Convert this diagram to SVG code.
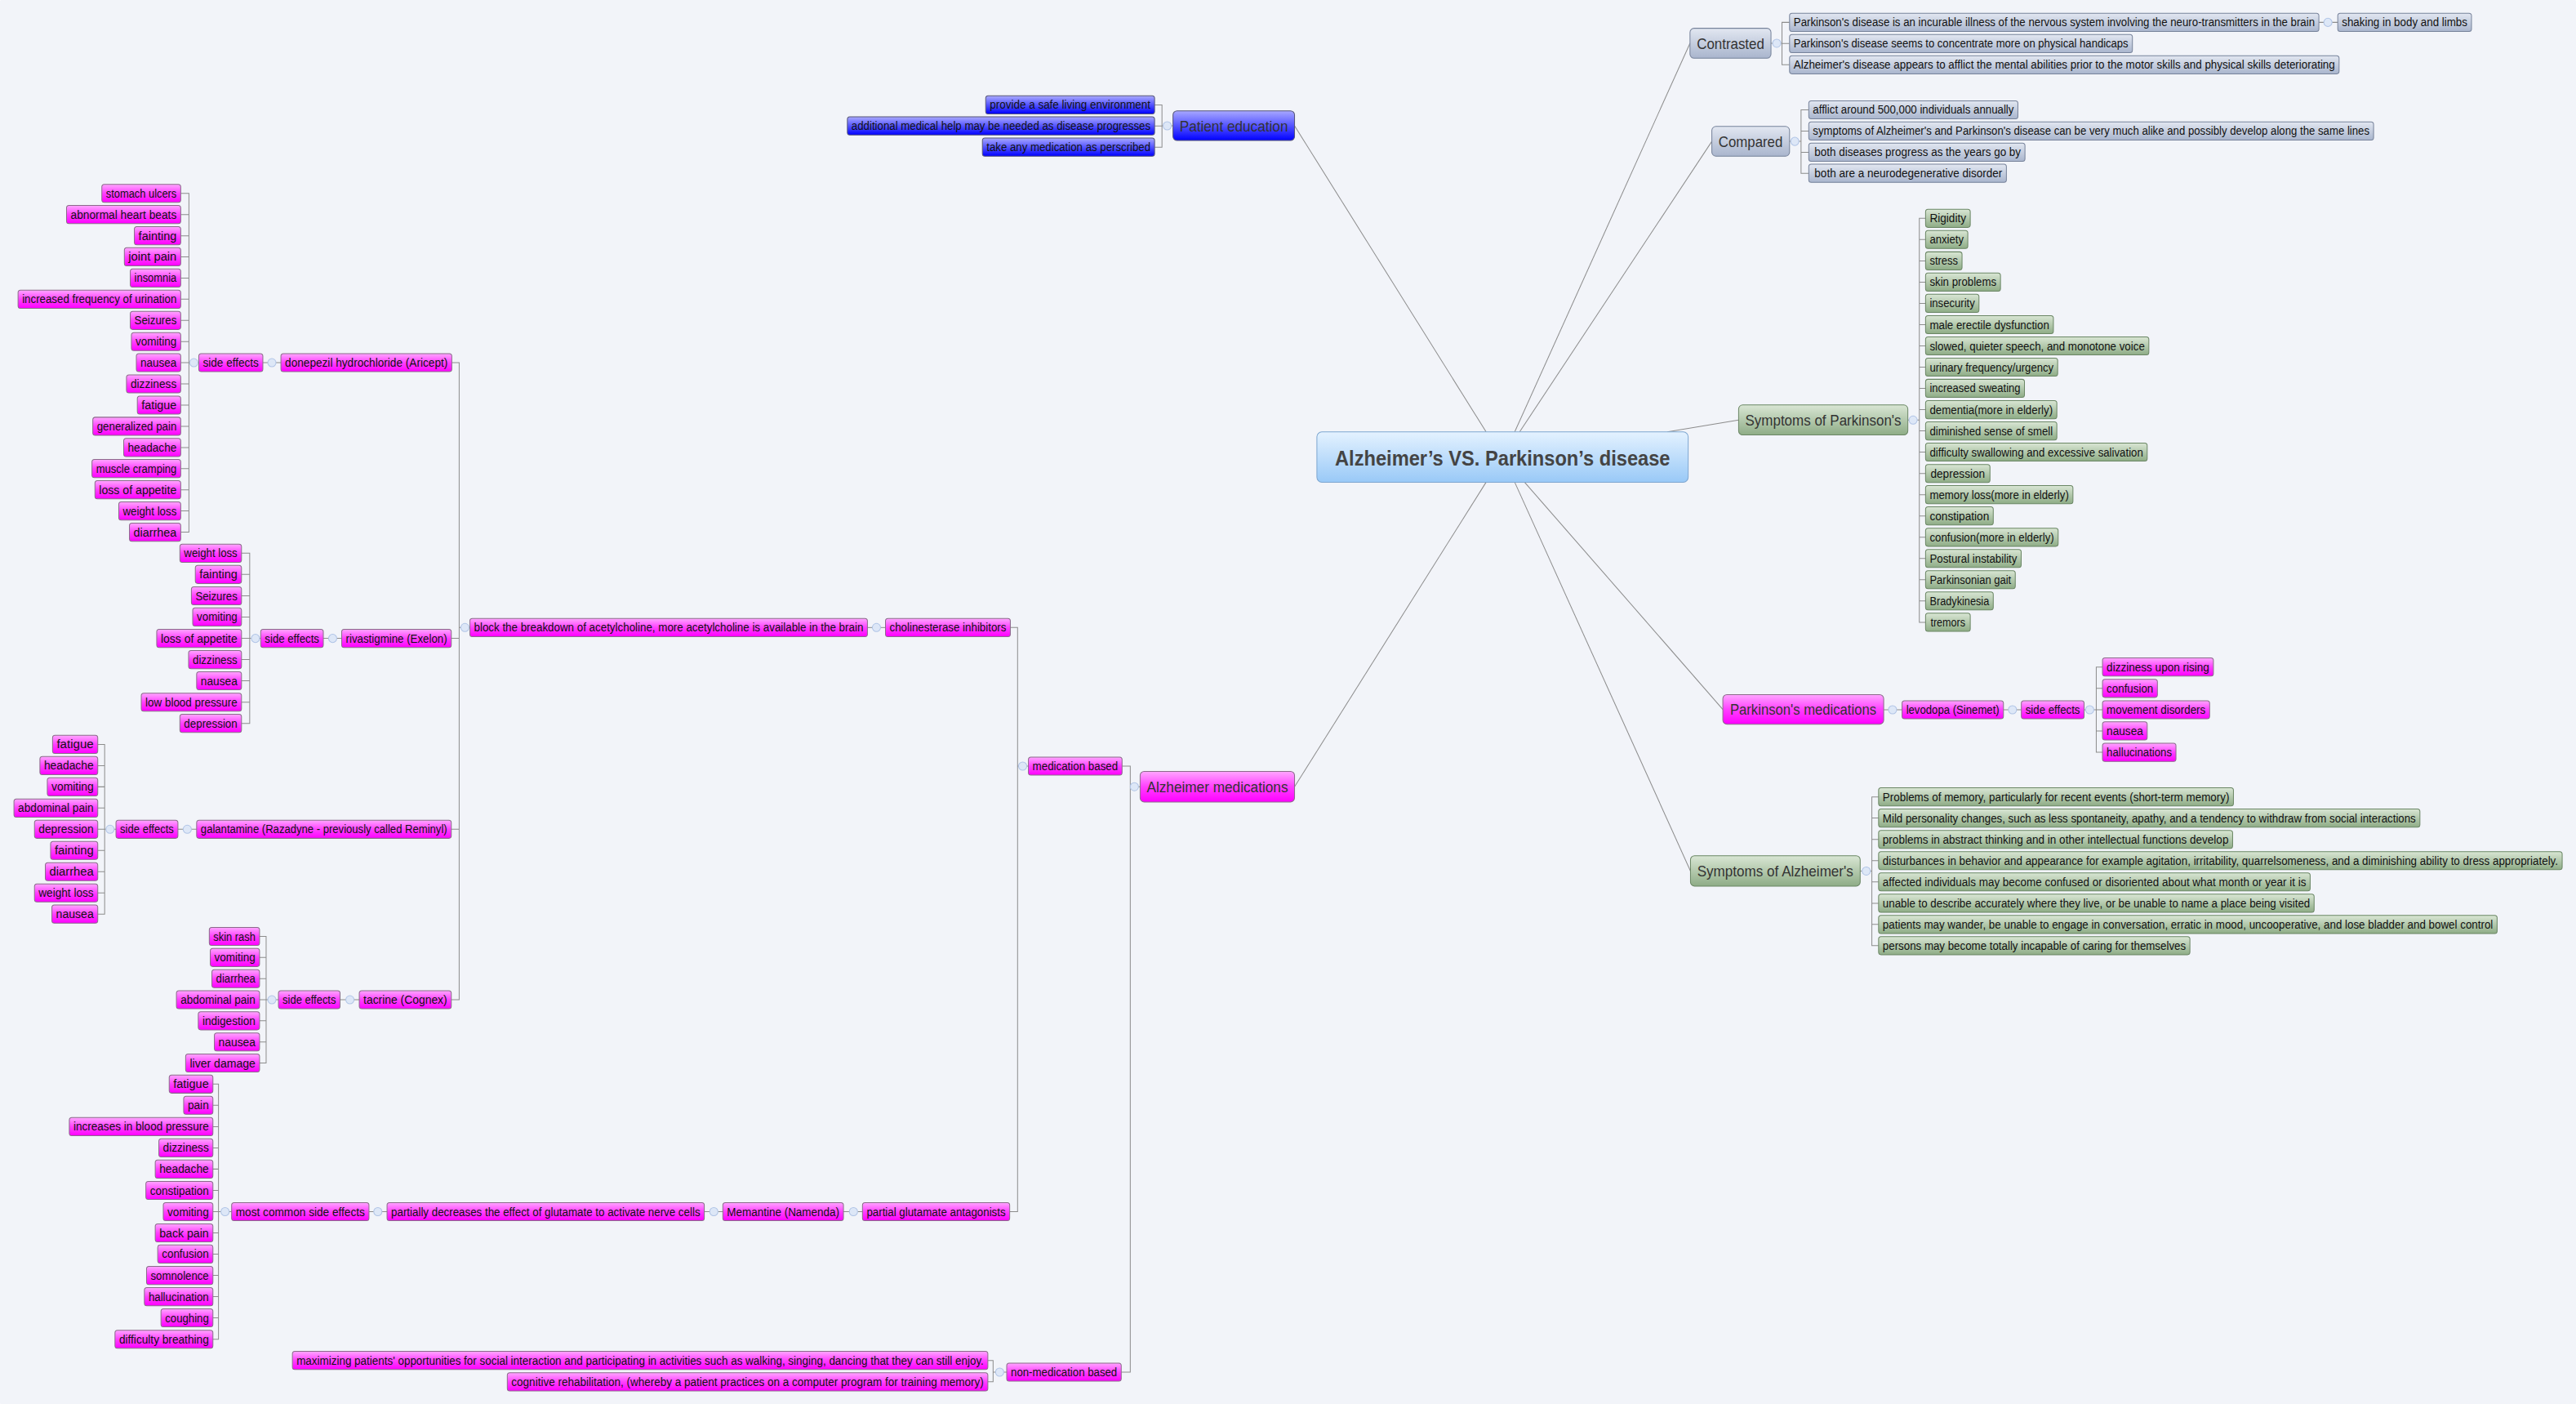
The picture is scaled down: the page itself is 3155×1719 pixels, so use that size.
<svg xmlns="http://www.w3.org/2000/svg" width="3155" height="1719" viewBox="0 0 3155 1719">
<defs>
<linearGradient id="gm" x1="0" y1="0" x2="0" y2="1"><stop offset="0" stop-color="#ffa6ff"/><stop offset="0.5" stop-color="#ff40ff"/><stop offset="1" stop-color="#ff00ff"/></linearGradient>
<linearGradient id="gg" x1="0" y1="0" x2="0" y2="1"><stop offset="0" stop-color="#e2e7f1"/><stop offset="1" stop-color="#a9b5cd"/></linearGradient>
<linearGradient id="gr" x1="0" y1="0" x2="0" y2="1"><stop offset="0" stop-color="#d9e6d4"/><stop offset="1" stop-color="#8eac86"/></linearGradient>
<linearGradient id="gb" x1="0" y1="0" x2="0" y2="1"><stop offset="0" stop-color="#a8a8ff"/><stop offset="1" stop-color="#0000ff"/></linearGradient>
<linearGradient id="gc" x1="0" y1="0" x2="0" y2="1"><stop offset="0" stop-color="#e4f2ff"/><stop offset="1" stop-color="#99c9f7"/></linearGradient>
</defs>
<style>
rect{rx:1.5px;stroke-width:.5}
rect.m{fill:url(#gm);stroke:#8a6a8a}
rect.g{fill:url(#gg);stroke:#76829a}
rect.r{fill:url(#gr);stroke:#6a8664}
rect.b{fill:url(#gb);stroke:#555577}
rect.c{fill:url(#gc);stroke:#7ea6d0;rx:3px}
rect.h{rx:2.5px}
text{font-family:"Liberation Sans",Arial,sans-serif;font-size:7px;fill:#111}
text.h{font-size:9.5px;fill:#333;text-anchor:middle}
text.c{font-size:13px;font-weight:bold;fill:#444;text-anchor:middle}
#connectors path,#connectors line{fill:none;stroke:#8c8c8c;stroke-width:.5}
#connectors circle{fill:#dde7f7;stroke:#b0c4e6;stroke-width:.5}
</style>
<rect width="3155" height="1719" fill="#f2f4f9"/>
<g transform="scale(2.0121,2.0129)">
<g id="connectors">
<line x1="904.6" y1="262.7" x2="788" y2="76.5"/>
<line x1="922" y1="262.7" x2="1028.7" y2="26.3"/>
<line x1="925" y1="262.7" x2="1042" y2="86"/>
<line x1="1015" y1="262.7" x2="1058.3" y2="255.5"/>
<line x1="928" y1="293.3" x2="1048.7" y2="431.5"/>
<line x1="922" y1="293.3" x2="1029" y2="529.8"/>
<line x1="904.6" y1="293.3" x2="788" y2="478.5"/>
<path d="M714,76.5H707.3V63.8H702.8M707.3,76.5V89.5H702.8M707.3,76.6H702.8"/>
<path d="M694,478.5H688V466H683M688,478.5V834.6H682.5"/>
<path d="M626,466H619.4V381.7H615M619.4,466V737H614.6"/>
<path d="M539,381.7H528"/>
<path d="M286,381.7H279.5V220.6H275M279.5,381.7V608.1H274.7M279.5,388.3H274.7M279.5,504.4H274.7"/>
<path d="M171,220.6H160M121,220.6H115V117.6H110M115,220.6V323.7H110M115,130.5H110M115,143.4H110M115,156.2H110M115,169.1H110M115,182H110M115,194.9H110M115,207.8H110M115,220.6H110M115,233.5H110M115,246.4H110M115,259.3H110M115,272.2H110M115,285H110M115,297.9H110M115,310.8H110"/>
<path d="M208,388.3H196.8M158.7,388.3H152V336.5H147M152,388.3V440H147M152,349.4H147M152,362.4H147M152,375.3H147M152,388.3H147M152,401.2H147M152,414.1H147M152,427.1H147"/>
<path d="M119.7,504.4H108.3M70.6,504.4H63.7V452.8H59.5M63.7,504.4V556H59.5M63.7,465.7H59.5M63.7,478.6H59.5M63.7,491.5H59.5M63.7,504.4H59.5M63.7,517.3H59.5M63.7,530.2H59.5M63.7,543.1H59.5"/>
<path d="M218.7,608.1H207M169.5,608.1H162V569.6H158M162,608.1V646.6H158M162,582.4H158M162,595.3H158M162,608.1H158M162,620.9H158M162,633.8H158"/>
<path d="M525,737H513.4M440,737H428.7M235.6,737H224.6M141,737H133V659.4H129.6M133,737V814.6H129.6M133,672.3H129.6M133,685.3H129.6M133,698.2H129.6M133,711.1H129.6M133,724.1H129.6M133,737H129.6M133,749.9H129.6M133,762.8H129.6M133,775.8H129.6M133,788.7H129.6M133,801.6H129.6"/>
<path d="M612.8,834.6H604.5V827.5H601.3M604.5,834.6V840.5H601.3"/>
<path d="M1078,26.3H1084.7V13.6H1089.3M1084.7,26.3V39.4H1089.3M1084.7,26.5H1089.3M1411.5,13.6H1423"/>
<path d="M1089.3,86H1096.3V66.8H1101M1096.3,86V105.4H1101M1096.3,79.7H1101M1096.3,92.6H1101"/>
<path d="M1161.3,255.5H1168.3V132.8H1172.1M1168.3,255.5V378.5H1172.1M1168.3,145.7H1172.1M1168.3,158.7H1172.1M1168.3,171.6H1172.1M1168.3,184.5H1172.1M1168.3,197.5H1172.1M1168.3,210.4H1172.1M1168.3,223.3H1172.1M1168.3,236.2H1172.1M1168.3,249.2H1172.1M1168.3,262.1H1172.1M1168.3,275H1172.1M1168.3,288H1172.1M1168.3,300.9H1172.1M1168.3,313.8H1172.1M1168.3,326.8H1172.1M1168.3,339.7H1172.1M1168.3,352.6H1172.1M1168.3,365.5H1172.1"/>
<path d="M1146.6,431.7H1157.8M1219.5,431.7H1230.4M1268.6,431.7H1276V405.7H1279.8M1276,431.7V457.6H1279.8M1276,418.7H1279.8M1276,431.7H1279.8M1276,444.6H1279.8"/>
<path d="M1132.3,529.8H1139.4V484.7H1143.5M1139.4,529.8V575.2H1143.5M1139.4,497.6H1143.5M1139.4,510.6H1143.5M1139.4,523.5H1143.5M1139.4,536.4H1143.5M1139.4,549.4H1143.5M1139.4,562.3H1143.5"/>
<circle cx="710.5" cy="76.5" r="2.5"/><circle cx="690.5" cy="478.5" r="2.5"/><circle cx="622.5" cy="466" r="2.5"/><circle cx="533.5" cy="381.7" r="2.5"/><circle cx="283" cy="381.7" r="2.5"/><circle cx="165.5" cy="220.6" r="2.5"/><circle cx="118" cy="220.6" r="2.5"/><circle cx="202.5" cy="388.3" r="2.5"/><circle cx="155.5" cy="388.3" r="2.5"/><circle cx="114" cy="504.4" r="2.5"/><circle cx="67" cy="504.4" r="2.5"/><circle cx="213" cy="608.1" r="2.5"/><circle cx="165.5" cy="608.1" r="2.5"/><circle cx="519.5" cy="737" r="2.5"/><circle cx="434.5" cy="737" r="2.5"/><circle cx="230" cy="737" r="2.5"/><circle cx="137" cy="737" r="2.5"/><circle cx="608.5" cy="834.6" r="2.5"/><circle cx="1081.5" cy="26.3" r="2.5"/><circle cx="1417" cy="13.6" r="2.5"/><circle cx="1092.5" cy="86" r="2.5"/><circle cx="1164.5" cy="255.5" r="2.5"/><circle cx="1152" cy="431.7" r="2.5"/><circle cx="1225" cy="431.7" r="2.5"/><circle cx="1272" cy="431.7" r="2.5"/><circle cx="1136" cy="529.8" r="2.5"/>
</g>
<g id="central"><rect class="c" x="801.6" y="262.7" width="226" height="30.6"/><text class="c" x="914.6" y="283" textLength="204" lengthAdjust="spacingAndGlyphs">Alzheimer’s VS. Parkinson’s disease</text></g>
<g id="patient-education"><rect class="b h" x="714" y="67.4" width="74" height="18.1"/><text class="h" x="751" y="79.8" textLength="66" lengthAdjust="spacingAndGlyphs">Patient education</text></g>
<g id="pe1"><rect class="b" x="600" y="58.3" width="102.8" height="11"/><text x="602.5" y="66.3" textLength="97.8" lengthAdjust="spacingAndGlyphs">provide a safe living environment</text></g>
<g id="pe2"><rect class="b" x="515.8" y="71.1" width="187" height="11"/><text x="518.3" y="79.1" textLength="182" lengthAdjust="spacingAndGlyphs">additional medical help may be needed as disease progresses</text></g>
<g id="pe3"><rect class="b" x="598" y="84" width="104.8" height="11"/><text x="600.5" y="92" textLength="99.8" lengthAdjust="spacingAndGlyphs">take any medication as perscribed</text></g>
<g id="alz-med"><rect class="m h" x="694" y="469.2" width="94" height="18.6"/><text class="h" x="741" y="481.8" textLength="86" lengthAdjust="spacingAndGlyphs">Alzheimer medications</text></g>
<g id="med-based"><rect class="m" x="626" y="460.5" width="57" height="11"/><text x="628.5" y="468.5" textLength="52" lengthAdjust="spacingAndGlyphs">medication based</text></g>
<g id="nonmed"><rect class="m" x="612.8" y="829.1" width="69.7" height="11"/><text x="615.3" y="837.1" textLength="64.7" lengthAdjust="spacingAndGlyphs">non-medication based</text></g>
<g id="nm1"><rect class="m" x="178" y="822" width="423.3" height="11"/><text x="180.5" y="830" textLength="418.3" lengthAdjust="spacingAndGlyphs">maximizing patients' opportunities for social interaction and participating in activities such as walking, singing, dancing that they can still enjoy.</text></g>
<g id="nm2"><rect class="m" x="308.8" y="835" width="292.5" height="11"/><text x="311.3" y="843" textLength="287.5" lengthAdjust="spacingAndGlyphs">cognitive rehabilitation, (whereby a patient practices on a computer program for training memory)</text></g>
<g id="chol"><rect class="m" x="539" y="376.2" width="76" height="11"/><text x="541.5" y="384.2" textLength="71" lengthAdjust="spacingAndGlyphs">cholinesterase inhibitors</text></g>
<g id="block"><rect class="m" x="286" y="376.2" width="242" height="11"/><text x="288.5" y="384.2" textLength="237" lengthAdjust="spacingAndGlyphs">block the breakdown of acetylcholine, more acetylcholine is available in the brain</text></g>
<g id="donepezil"><rect class="m" x="171" y="215.1" width="104" height="11"/><text x="173.5" y="223.1" textLength="99" lengthAdjust="spacingAndGlyphs">donepezil hydrochloride (Aricept)</text></g>
<g id="se-d"><rect class="m" x="121" y="215.1" width="39" height="11"/><text x="123.5" y="223.1" textLength="34" lengthAdjust="spacingAndGlyphs">side effects</text></g>
<g id="d1"><rect class="m" x="62" y="112.1" width="48" height="11"/><text x="64.5" y="120.1" textLength="43" lengthAdjust="spacingAndGlyphs">stomach ulcers</text></g>
<g id="d2"><rect class="m" x="40.5" y="125" width="69.5" height="11"/><text x="43" y="133" textLength="64.5" lengthAdjust="spacingAndGlyphs">abnormal heart beats</text></g>
<g id="d3"><rect class="m" x="81.8" y="137.9" width="28.2" height="11"/><text x="84.3" y="145.9" textLength="23.2" lengthAdjust="spacingAndGlyphs">fainting</text></g>
<g id="d4"><rect class="m" x="75.7" y="150.7" width="34.3" height="11"/><text x="78.2" y="158.7" textLength="29.3" lengthAdjust="spacingAndGlyphs">joint pain</text></g>
<g id="d5"><rect class="m" x="79.3" y="163.6" width="30.7" height="11"/><text x="81.8" y="171.6" textLength="25.7" lengthAdjust="spacingAndGlyphs">insomnia</text></g>
<g id="d6"><rect class="m" x="11" y="176.5" width="99" height="11"/><text x="13.5" y="184.5" textLength="94" lengthAdjust="spacingAndGlyphs">increased frequency of urination</text></g>
<g id="d7"><rect class="m" x="79.3" y="189.4" width="30.7" height="11"/><text x="81.8" y="197.4" textLength="25.7" lengthAdjust="spacingAndGlyphs">Seizures</text></g>
<g id="d8"><rect class="m" x="80" y="202.3" width="30" height="11"/><text x="82.5" y="210.3" textLength="25" lengthAdjust="spacingAndGlyphs">vomiting</text></g>
<g id="d9"><rect class="m" x="83" y="215.1" width="27" height="11"/><text x="85.5" y="223.1" textLength="22" lengthAdjust="spacingAndGlyphs">nausea</text></g>
<g id="d10"><rect class="m" x="77" y="228" width="33" height="11"/><text x="79.5" y="236" textLength="28" lengthAdjust="spacingAndGlyphs">dizziness</text></g>
<g id="d11"><rect class="m" x="83.6" y="240.9" width="26.4" height="11"/><text x="86.1" y="248.9" textLength="21.4" lengthAdjust="spacingAndGlyphs">fatigue</text></g>
<g id="d12"><rect class="m" x="56.5" y="253.8" width="53.5" height="11"/><text x="59" y="261.8" textLength="48.5" lengthAdjust="spacingAndGlyphs">generalized pain</text></g>
<g id="d13"><rect class="m" x="75.3" y="266.7" width="34.7" height="11"/><text x="77.8" y="274.7" textLength="29.7" lengthAdjust="spacingAndGlyphs">headache</text></g>
<g id="d14"><rect class="m" x="56" y="279.5" width="54" height="11"/><text x="58.5" y="287.5" textLength="49" lengthAdjust="spacingAndGlyphs">muscle cramping</text></g>
<g id="d15"><rect class="m" x="57.8" y="292.4" width="52.2" height="11"/><text x="60.3" y="300.4" textLength="47.2" lengthAdjust="spacingAndGlyphs">loss of appetite</text></g>
<g id="d16"><rect class="m" x="72.3" y="305.3" width="37.7" height="11"/><text x="74.8" y="313.3" textLength="32.7" lengthAdjust="spacingAndGlyphs">weight loss</text></g>
<g id="d17"><rect class="m" x="78.8" y="318.2" width="31.2" height="11"/><text x="81.3" y="326.2" textLength="26.2" lengthAdjust="spacingAndGlyphs">diarrhea</text></g>
<g id="rivastigmine"><rect class="m" x="208" y="382.8" width="66.7" height="11"/><text x="210.5" y="390.8" textLength="61.7" lengthAdjust="spacingAndGlyphs">rivastigmine (Exelon)</text></g>
<g id="se-r"><rect class="m" x="158.7" y="382.8" width="38.1" height="11"/><text x="161.2" y="390.8" textLength="33.1" lengthAdjust="spacingAndGlyphs">side effects</text></g>
<g id="r1"><rect class="m" x="109.5" y="331" width="37.5" height="11"/><text x="112" y="339" textLength="32.5" lengthAdjust="spacingAndGlyphs">weight loss</text></g>
<g id="r2"><rect class="m" x="118.9" y="343.9" width="28.1" height="11"/><text x="121.4" y="351.9" textLength="23.1" lengthAdjust="spacingAndGlyphs">fainting</text></g>
<g id="r3"><rect class="m" x="116.5" y="356.9" width="30.5" height="11"/><text x="119" y="364.9" textLength="25.5" lengthAdjust="spacingAndGlyphs">Seizures</text></g>
<g id="r4"><rect class="m" x="117.3" y="369.8" width="29.7" height="11"/><text x="119.8" y="377.8" textLength="24.7" lengthAdjust="spacingAndGlyphs">vomiting</text></g>
<g id="r5"><rect class="m" x="95.4" y="382.8" width="51.6" height="11"/><text x="97.9" y="390.8" textLength="46.6" lengthAdjust="spacingAndGlyphs">loss of appetite</text></g>
<g id="r6"><rect class="m" x="114.8" y="395.7" width="32.2" height="11"/><text x="117.3" y="403.7" textLength="27.2" lengthAdjust="spacingAndGlyphs">dizziness</text></g>
<g id="r7"><rect class="m" x="119.7" y="408.6" width="27.3" height="11"/><text x="122.2" y="416.6" textLength="22.3" lengthAdjust="spacingAndGlyphs">nausea</text></g>
<g id="r8"><rect class="m" x="86" y="421.6" width="61" height="11"/><text x="88.5" y="429.6" textLength="56" lengthAdjust="spacingAndGlyphs">low blood pressure</text></g>
<g id="r9"><rect class="m" x="109.5" y="434.5" width="37.5" height="11"/><text x="112" y="442.5" textLength="32.5" lengthAdjust="spacingAndGlyphs">depression</text></g>
<g id="galantamine"><rect class="m" x="119.7" y="498.9" width="155" height="11"/><text x="122.2" y="506.9" textLength="150" lengthAdjust="spacingAndGlyphs">galantamine (Razadyne - previously called Reminyl)</text></g>
<g id="se-g"><rect class="m" x="70.6" y="498.9" width="37.7" height="11"/><text x="73.1" y="506.9" textLength="32.7" lengthAdjust="spacingAndGlyphs">side effects</text></g>
<g id="g1"><rect class="m" x="32" y="447.3" width="27.5" height="11"/><text x="34.5" y="455.3" textLength="22.5" lengthAdjust="spacingAndGlyphs">fatigue</text></g>
<g id="g2"><rect class="m" x="24.3" y="460.2" width="35.2" height="11"/><text x="26.8" y="468.2" textLength="30.2" lengthAdjust="spacingAndGlyphs">headache</text></g>
<g id="g3"><rect class="m" x="28.8" y="473.1" width="30.7" height="11"/><text x="31.3" y="481.1" textLength="25.7" lengthAdjust="spacingAndGlyphs">vomiting</text></g>
<g id="g4"><rect class="m" x="8.5" y="486" width="51" height="11"/><text x="11" y="494" textLength="46" lengthAdjust="spacingAndGlyphs">abdominal pain</text></g>
<g id="g5"><rect class="m" x="21" y="498.9" width="38.5" height="11"/><text x="23.5" y="506.9" textLength="33.5" lengthAdjust="spacingAndGlyphs">depression</text></g>
<g id="g6"><rect class="m" x="30.8" y="511.8" width="28.7" height="11"/><text x="33.3" y="519.8" textLength="23.7" lengthAdjust="spacingAndGlyphs">fainting</text></g>
<g id="g7"><rect class="m" x="27.6" y="524.7" width="31.9" height="11"/><text x="30.1" y="532.7" textLength="26.9" lengthAdjust="spacingAndGlyphs">diarrhea</text></g>
<g id="g8"><rect class="m" x="21" y="537.6" width="38.5" height="11"/><text x="23.5" y="545.6" textLength="33.5" lengthAdjust="spacingAndGlyphs">weight loss</text></g>
<g id="g9"><rect class="m" x="31.6" y="550.5" width="27.9" height="11"/><text x="34.1" y="558.5" textLength="22.9" lengthAdjust="spacingAndGlyphs">nausea</text></g>
<g id="tacrine"><rect class="m" x="218.7" y="602.6" width="56" height="11"/><text x="221.2" y="610.6" textLength="51" lengthAdjust="spacingAndGlyphs">tacrine (Cognex)</text></g>
<g id="se-t"><rect class="m" x="169.5" y="602.6" width="37.5" height="11"/><text x="172" y="610.6" textLength="32.5" lengthAdjust="spacingAndGlyphs">side effects</text></g>
<g id="t1"><rect class="m" x="127.4" y="564.1" width="30.6" height="11"/><text x="129.9" y="572.1" textLength="25.6" lengthAdjust="spacingAndGlyphs">skin rash</text></g>
<g id="t2"><rect class="m" x="128" y="576.9" width="30" height="11"/><text x="130.5" y="584.9" textLength="25" lengthAdjust="spacingAndGlyphs">vomiting</text></g>
<g id="t3"><rect class="m" x="129" y="589.8" width="29" height="11"/><text x="131.5" y="597.8" textLength="24" lengthAdjust="spacingAndGlyphs">diarrhea</text></g>
<g id="t4"><rect class="m" x="107.4" y="602.6" width="50.6" height="11"/><text x="109.9" y="610.6" textLength="45.6" lengthAdjust="spacingAndGlyphs">abdominal pain</text></g>
<g id="t5"><rect class="m" x="120.7" y="615.4" width="37.3" height="11"/><text x="123.2" y="623.4" textLength="32.3" lengthAdjust="spacingAndGlyphs">indigestion</text></g>
<g id="t6"><rect class="m" x="130.5" y="628.3" width="27.5" height="11"/><text x="133" y="636.3" textLength="22.5" lengthAdjust="spacingAndGlyphs">nausea</text></g>
<g id="t7"><rect class="m" x="113" y="641.1" width="45" height="11"/><text x="115.5" y="649.1" textLength="40" lengthAdjust="spacingAndGlyphs">liver damage</text></g>
<g id="partial-glut"><rect class="m" x="525" y="731.5" width="89.6" height="11"/><text x="527.5" y="739.5" textLength="84.6" lengthAdjust="spacingAndGlyphs">partial glutamate antagonists</text></g>
<g id="memantine"><rect class="m" x="440" y="731.5" width="73.4" height="11"/><text x="442.5" y="739.5" textLength="68.4" lengthAdjust="spacingAndGlyphs">Memantine (Namenda)</text></g>
<g id="partially"><rect class="m" x="235.6" y="731.5" width="193.1" height="11"/><text x="238.1" y="739.5" textLength="188.1" lengthAdjust="spacingAndGlyphs">partially decreases the effect of glutamate to activate nerve cells</text></g>
<g id="most-common"><rect class="m" x="141" y="731.5" width="83.6" height="11"/><text x="143.5" y="739.5" textLength="78.6" lengthAdjust="spacingAndGlyphs">most common side effects</text></g>
<g id="m1"><rect class="m" x="103" y="653.9" width="26.6" height="11"/><text x="105.5" y="661.9" textLength="21.6" lengthAdjust="spacingAndGlyphs">fatigue</text></g>
<g id="m2"><rect class="m" x="111.8" y="666.8" width="17.8" height="11"/><text x="114.3" y="674.8" textLength="12.8" lengthAdjust="spacingAndGlyphs">pain</text></g>
<g id="m3"><rect class="m" x="42.2" y="679.8" width="87.4" height="11"/><text x="44.7" y="687.8" textLength="82.4" lengthAdjust="spacingAndGlyphs">increases in blood pressure</text></g>
<g id="m4"><rect class="m" x="96.7" y="692.7" width="32.9" height="11"/><text x="99.2" y="700.7" textLength="27.9" lengthAdjust="spacingAndGlyphs">dizziness</text></g>
<g id="m5"><rect class="m" x="94.5" y="705.6" width="35.1" height="11"/><text x="97" y="713.6" textLength="30.1" lengthAdjust="spacingAndGlyphs">headache</text></g>
<g id="m6"><rect class="m" x="88.8" y="718.6" width="40.8" height="11"/><text x="91.3" y="726.6" textLength="35.8" lengthAdjust="spacingAndGlyphs">constipation</text></g>
<g id="m7"><rect class="m" x="99.4" y="731.5" width="30.2" height="11"/><text x="101.9" y="739.5" textLength="25.2" lengthAdjust="spacingAndGlyphs">vomiting</text></g>
<g id="m8"><rect class="m" x="94.5" y="744.4" width="35.1" height="11"/><text x="97" y="752.4" textLength="30.1" lengthAdjust="spacingAndGlyphs">back pain</text></g>
<g id="m9"><rect class="m" x="96" y="757.3" width="33.6" height="11"/><text x="98.5" y="765.3" textLength="28.6" lengthAdjust="spacingAndGlyphs">confusion</text></g>
<g id="m10"><rect class="m" x="89.2" y="770.3" width="40.4" height="11"/><text x="91.7" y="778.3" textLength="35.4" lengthAdjust="spacingAndGlyphs">somnolence</text></g>
<g id="m11"><rect class="m" x="87.9" y="783.2" width="41.7" height="11"/><text x="90.4" y="791.2" textLength="36.7" lengthAdjust="spacingAndGlyphs">hallucination</text></g>
<g id="m12"><rect class="m" x="98" y="796.1" width="31.6" height="11"/><text x="100.5" y="804.1" textLength="26.6" lengthAdjust="spacingAndGlyphs">coughing</text></g>
<g id="m13"><rect class="m" x="70" y="809.1" width="59.6" height="11"/><text x="72.5" y="817.1" textLength="54.6" lengthAdjust="spacingAndGlyphs">difficulty breathing</text></g>
<g id="contrasted"><rect class="g h" x="1028.7" y="17.2" width="49.3" height="18.2"/><text class="h" x="1053.4" y="29.6" textLength="41" lengthAdjust="spacingAndGlyphs">Contrasted</text></g>
<g id="c1"><rect class="g" x="1089.3" y="8.1" width="322.2" height="11"/><text x="1091.8" y="16.1" textLength="317.2" lengthAdjust="spacingAndGlyphs">Parkinson's disease is an incurable illness of the nervous system involving the neuro-transmitters in the brain</text></g>
<g id="c1a"><rect class="g" x="1423" y="8.1" width="81.4" height="11"/><text x="1425.5" y="16.1" textLength="76.4" lengthAdjust="spacingAndGlyphs">shaking in body and limbs</text></g>
<g id="c2"><rect class="g" x="1089.3" y="21" width="208.7" height="11"/><text x="1091.8" y="29" textLength="203.7" lengthAdjust="spacingAndGlyphs">Parkinson's disease seems to concentrate more on physical handicaps</text></g>
<g id="c3"><rect class="g" x="1089.3" y="33.9" width="334.5" height="11"/><text x="1091.8" y="41.9" textLength="329.5" lengthAdjust="spacingAndGlyphs">Alzheimer's disease appears to afflict the mental abilities prior to the motor skills and physical skills deteriorating</text></g>
<g id="compared"><rect class="g h" x="1042" y="76.9" width="47.3" height="18.1"/><text class="h" x="1065.6" y="89.3" textLength="39" lengthAdjust="spacingAndGlyphs">Compared</text></g>
<g id="cp1"><rect class="g" x="1101" y="61.3" width="127.3" height="11"/><text x="1103.5" y="69.3" textLength="122.3" lengthAdjust="spacingAndGlyphs">afflict around 500,000 individuals annually</text></g>
<g id="cp2"><rect class="g" x="1101" y="74.2" width="343.8" height="11"/><text x="1103.5" y="82.2" textLength="338.8" lengthAdjust="spacingAndGlyphs">symptoms of Alzheimer's and Parkinson's disease can be very much alike and possibly develop along the same lines</text></g>
<g id="cp3"><rect class="g" x="1101" y="87.1" width="131.6" height="11"/><text x="1104.5" y="95.1" textLength="125.6" lengthAdjust="spacingAndGlyphs">both diseases progress as the years go by</text></g>
<g id="cp4"><rect class="g" x="1101" y="99.9" width="120.3" height="11"/><text x="1104.5" y="107.9" textLength="114.3" lengthAdjust="spacingAndGlyphs">both are a neurodegenerative disorder</text></g>
<g id="sym-park"><rect class="r h" x="1058.3" y="246.3" width="103" height="18.3"/><text class="h" x="1109.8" y="258.8" textLength="95" lengthAdjust="spacingAndGlyphs">Symptoms of Parkinson's</text></g>
<g id="sp1"><rect class="r" x="1172.1" y="127.3" width="27.2" height="11"/><text x="1174.6" y="135.3" textLength="22.2" lengthAdjust="spacingAndGlyphs">Rigidity</text></g>
<g id="sp2"><rect class="r" x="1172.1" y="140.2" width="25.7" height="11"/><text x="1174.6" y="148.2" textLength="20.7" lengthAdjust="spacingAndGlyphs">anxiety</text></g>
<g id="sp3"><rect class="r" x="1172.1" y="153.2" width="22.2" height="11"/><text x="1174.6" y="161.2" textLength="17.2" lengthAdjust="spacingAndGlyphs">stress</text></g>
<g id="sp4"><rect class="r" x="1172.1" y="166.1" width="45.6" height="11"/><text x="1174.6" y="174.1" textLength="40.6" lengthAdjust="spacingAndGlyphs">skin problems</text></g>
<g id="sp5"><rect class="r" x="1172.1" y="179" width="32.5" height="11"/><text x="1174.6" y="187" textLength="27.5" lengthAdjust="spacingAndGlyphs">insecurity</text></g>
<g id="sp6"><rect class="r" x="1172.1" y="192" width="77.8" height="11"/><text x="1174.6" y="200" textLength="72.8" lengthAdjust="spacingAndGlyphs">male erectile dysfunction</text></g>
<g id="sp7"><rect class="r" x="1172.1" y="204.9" width="135.9" height="11"/><text x="1174.6" y="212.9" textLength="130.9" lengthAdjust="spacingAndGlyphs">slowed, quieter speech, and monotone voice</text></g>
<g id="sp8"><rect class="r" x="1172.1" y="217.8" width="80.4" height="11"/><text x="1174.6" y="225.8" textLength="75.4" lengthAdjust="spacingAndGlyphs">urinary frequency/urgency</text></g>
<g id="sp9"><rect class="r" x="1172.1" y="230.7" width="60.2" height="11"/><text x="1174.6" y="238.7" textLength="55.2" lengthAdjust="spacingAndGlyphs">increased sweating</text></g>
<g id="sp10"><rect class="r" x="1172.1" y="243.7" width="79.9" height="11"/><text x="1174.6" y="251.7" textLength="74.9" lengthAdjust="spacingAndGlyphs">dementia(more in elderly)</text></g>
<g id="sp11"><rect class="r" x="1172.1" y="256.6" width="79.9" height="11"/><text x="1174.6" y="264.6" textLength="74.9" lengthAdjust="spacingAndGlyphs">diminished sense of smell</text></g>
<g id="sp12"><rect class="r" x="1172.1" y="269.5" width="134.9" height="11"/><text x="1174.6" y="277.5" textLength="129.9" lengthAdjust="spacingAndGlyphs">difficulty swallowing and excessive salivation</text></g>
<g id="sp13"><rect class="r" x="1172.1" y="282.5" width="39.2" height="11"/><text x="1175.1" y="290.5" textLength="33.2" lengthAdjust="spacingAndGlyphs">depression</text></g>
<g id="sp14"><rect class="r" x="1172.1" y="295.4" width="89.7" height="11"/><text x="1174.6" y="303.4" textLength="84.7" lengthAdjust="spacingAndGlyphs">memory loss(more in elderly)</text></g>
<g id="sp15"><rect class="r" x="1172.1" y="308.3" width="41.2" height="11"/><text x="1174.6" y="316.3" textLength="36.2" lengthAdjust="spacingAndGlyphs">constipation</text></g>
<g id="sp16"><rect class="r" x="1172.1" y="321.3" width="80.7" height="11"/><text x="1174.6" y="329.3" textLength="75.7" lengthAdjust="spacingAndGlyphs">confusion(more in elderly)</text></g>
<g id="sp17"><rect class="r" x="1172.1" y="334.2" width="58.2" height="11"/><text x="1174.6" y="342.2" textLength="53.2" lengthAdjust="spacingAndGlyphs">Postural instability</text></g>
<g id="sp18"><rect class="r" x="1172.1" y="347.1" width="54.6" height="11"/><text x="1174.6" y="355.1" textLength="49.6" lengthAdjust="spacingAndGlyphs">Parkinsonian gait</text></g>
<g id="sp19"><rect class="r" x="1172.1" y="360" width="41.2" height="11"/><text x="1174.6" y="368" textLength="36.2" lengthAdjust="spacingAndGlyphs">Bradykinesia</text></g>
<g id="sp20"><rect class="r" x="1172.1" y="373" width="27.2" height="11"/><text x="1175.1" y="381" textLength="21.2" lengthAdjust="spacingAndGlyphs">tremors</text></g>
<g id="park-med"><rect class="m h" x="1048.7" y="422.5" width="97.9" height="18"/><text class="h" x="1097.6" y="434.8" textLength="89" lengthAdjust="spacingAndGlyphs">Parkinson's medications</text></g>
<g id="levodopa"><rect class="m" x="1157.8" y="426.2" width="61.7" height="11"/><text x="1160.3" y="434.2" textLength="56.7" lengthAdjust="spacingAndGlyphs">levodopa (Sinemet)</text></g>
<g id="se-p"><rect class="m" x="1230.4" y="426.2" width="38.2" height="11"/><text x="1232.9" y="434.2" textLength="33.2" lengthAdjust="spacingAndGlyphs">side effects</text></g>
<g id="pm1"><rect class="m" x="1279.8" y="400.2" width="67.5" height="11"/><text x="1282.3" y="408.2" textLength="62.5" lengthAdjust="spacingAndGlyphs">dizziness upon rising</text></g>
<g id="pm2"><rect class="m" x="1279.8" y="413.2" width="33.4" height="11"/><text x="1282.3" y="421.2" textLength="28.4" lengthAdjust="spacingAndGlyphs">confusion</text></g>
<g id="pm3"><rect class="m" x="1279.8" y="426.2" width="65.2" height="11"/><text x="1282.3" y="434.2" textLength="60.2" lengthAdjust="spacingAndGlyphs">movement disorders</text></g>
<g id="pm4"><rect class="m" x="1279.8" y="439.1" width="27.2" height="11"/><text x="1282.3" y="447.1" textLength="22.2" lengthAdjust="spacingAndGlyphs">nausea</text></g>
<g id="pm5"><rect class="m" x="1279.8" y="452.1" width="44.7" height="11"/><text x="1282.3" y="460.1" textLength="39.7" lengthAdjust="spacingAndGlyphs">hallucinations</text></g>
<g id="sym-alz"><rect class="r h" x="1029" y="520.5" width="103.3" height="18.5"/><text class="h" x="1080.6" y="533.1" textLength="95" lengthAdjust="spacingAndGlyphs">Symptoms of Alzheimer's</text></g>
<g id="sa1"><rect class="r" x="1143.5" y="479.2" width="216" height="11"/><text x="1146" y="487.2" textLength="211" lengthAdjust="spacingAndGlyphs">Problems of memory, particularly for recent events (short-term memory)</text></g>
<g id="sa2"><rect class="r" x="1143.5" y="492.1" width="329.5" height="11"/><text x="1146" y="500.1" textLength="324.5" lengthAdjust="spacingAndGlyphs">Mild personality changes, such as less spontaneity, apathy, and a tendency to withdraw from social interactions</text></g>
<g id="sa3"><rect class="r" x="1143.5" y="505.1" width="215.5" height="11"/><text x="1146" y="513.1" textLength="210.5" lengthAdjust="spacingAndGlyphs">problems in abstract thinking and in other intellectual functions develop</text></g>
<g id="sa4"><rect class="r" x="1143.5" y="518" width="416.1" height="11"/><text x="1146" y="526" textLength="411.1" lengthAdjust="spacingAndGlyphs">disturbances in behavior and appearance for example agitation, irritability, quarrelsomeness, and a diminishing ability to dress appropriately.</text></g>
<g id="sa5"><rect class="r" x="1143.5" y="530.9" width="262.7" height="11"/><text x="1146" y="538.9" textLength="257.7" lengthAdjust="spacingAndGlyphs">affected individuals may become confused or disoriented about what month or year it is</text></g>
<g id="sa6"><rect class="r" x="1143.5" y="543.9" width="265.1" height="11"/><text x="1146" y="551.9" textLength="260.1" lengthAdjust="spacingAndGlyphs">unable to describe accurately where they live, or be unable to name a place being visited</text></g>
<g id="sa7"><rect class="r" x="1143.5" y="556.8" width="376.5" height="11"/><text x="1146" y="564.8" textLength="371.5" lengthAdjust="spacingAndGlyphs">patients may wander, be unable to engage in conversation, erratic in mood, uncooperative, and lose bladder and bowel control</text></g>
<g id="sa8"><rect class="r" x="1143.5" y="569.7" width="189.5" height="11"/><text x="1146" y="577.7" textLength="184.5" lengthAdjust="spacingAndGlyphs">persons may become totally incapable of caring for themselves</text></g>
</g>
</svg>
